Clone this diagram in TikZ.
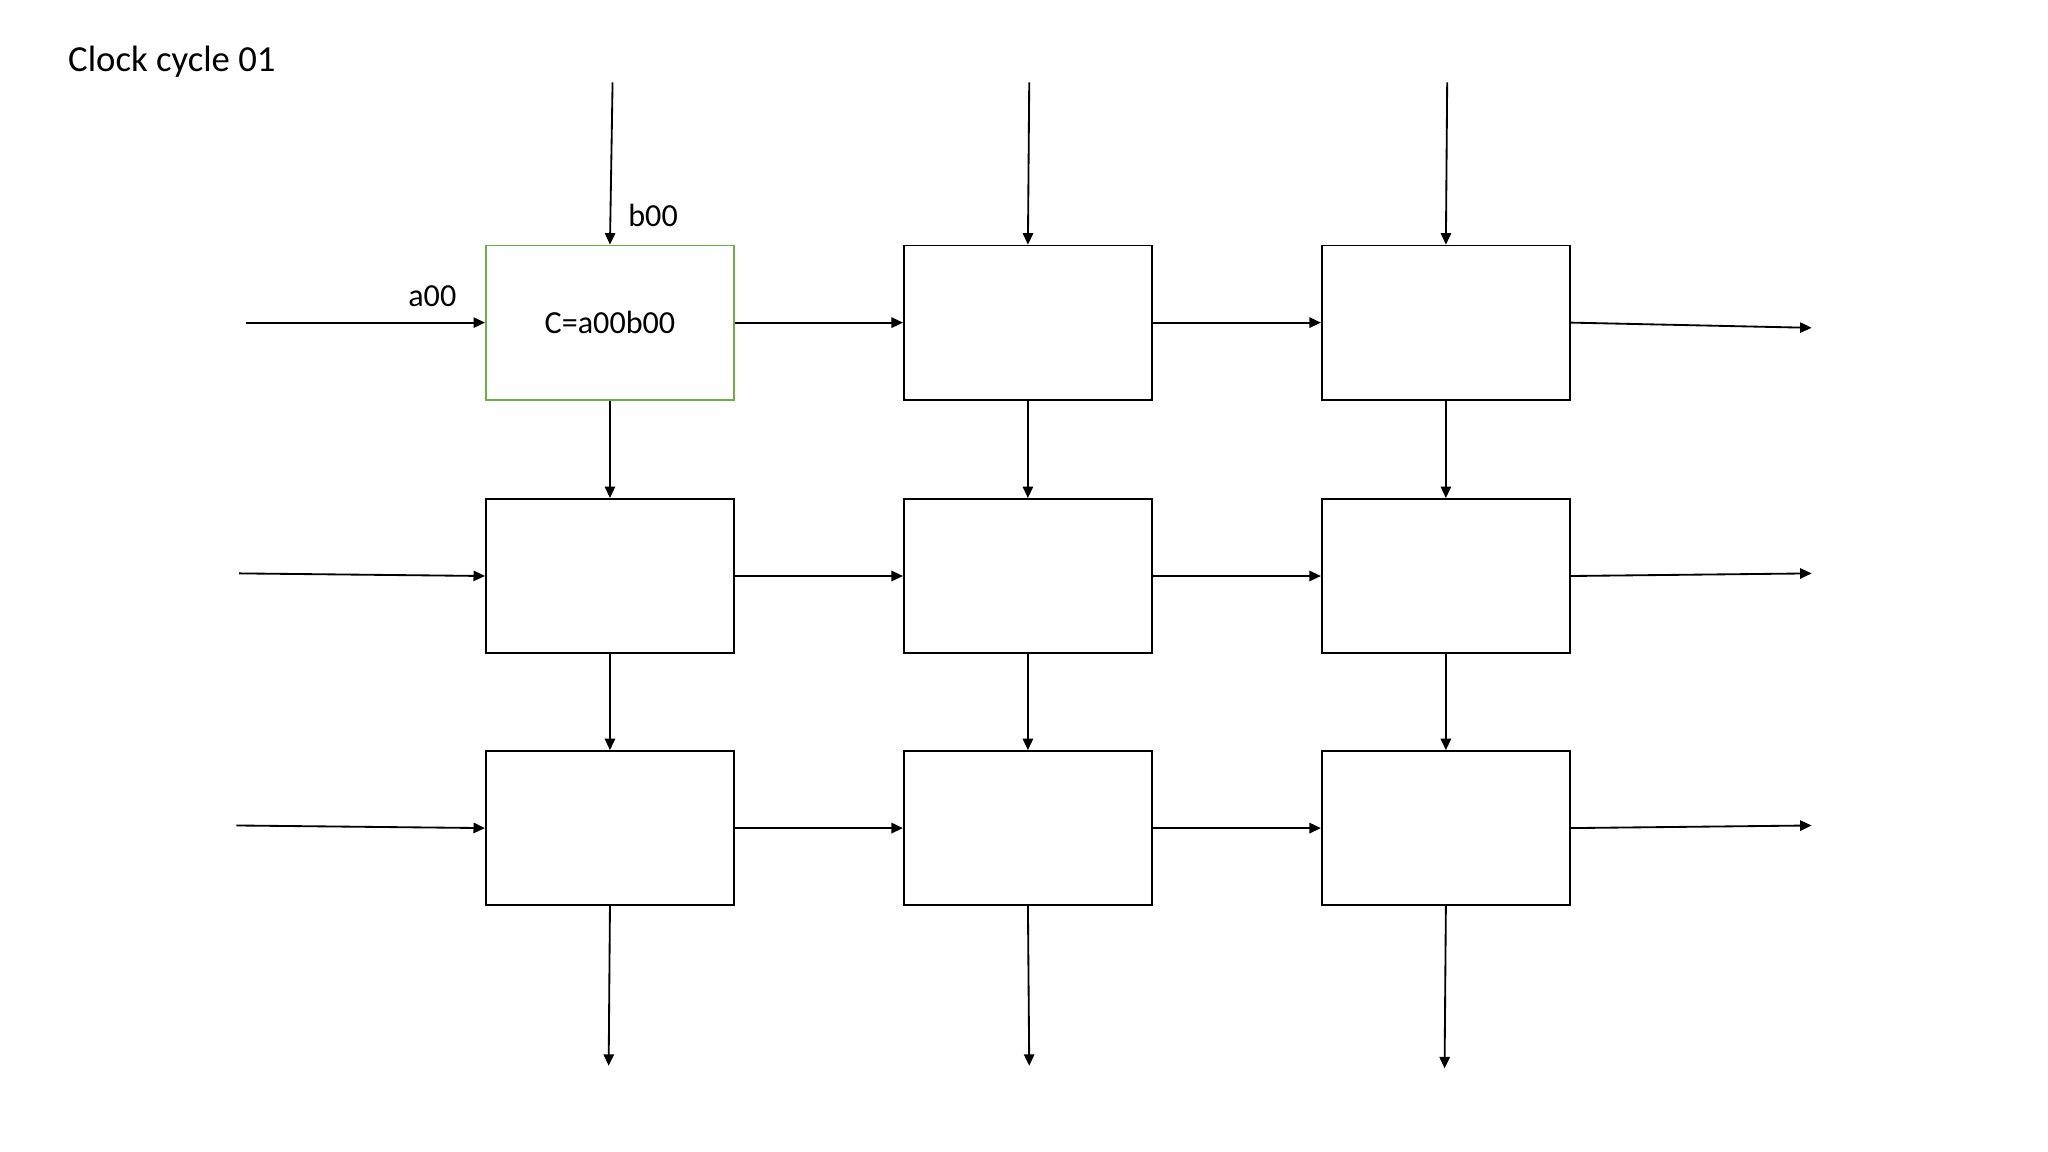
\documentclass[tikz,border=0pt]{standalone}
\usepackage{fontspec}
\setmainfont{Carlito}
\usetikzlibrary{arrows.meta}
\definecolor{pegreen}{RGB}{112,173,71}
\begin{document}
\begin{tikzpicture}[x=0.02cm,y=-0.02cm,
  pe/.style={draw,line width=0.8pt,minimum width=3.8cm,minimum height=2.36cm,inner sep=0,font=\fontsize{14}{16}\selectfont},
  arr/.style={line width=0.8pt,-{Triangle[length=5pt,width=4.5pt]}},
  lbl/.style={font=\fontsize{14}{16}\selectfont}]
\useasboundingbox (0,0) rectangle (1568,882);
\node[anchor=west,font=\fontsize{16}{19}\selectfont] (title) at (46,47) {Clock cycle 01};
\foreach \c/\x in {1/467,2/787,3/1107}{
  \foreach \r/\y in {1/247,2/441,3/634}{
    \node[pe] (p\r\c) at (\x,\y) {};
  }
}
\node[pe,draw=pegreen] at (p11) {C=a00b00};
% top inputs
\coordinate (t1) at (469,63); \coordinate (t2) at (788,63); \coordinate (t3) at (1108,63);
\foreach \c in {1,2,3}{ \draw[arr] (t\c) -- (p1\c.north); }
% bottom outputs
\coordinate (b1) at (466,816); \coordinate (b2) at (788,816); \coordinate (b3) at (1106,818);
\foreach \c in {1,2,3}{ \draw[arr] (p3\c.south) -- (b\c); }
% vertical between rows
\foreach \c in {1,2,3}{
  \draw[arr] (p1\c.south) -- (p2\c.north);
  \draw[arr] (p2\c.south) -- (p3\c.north);
}
% left inputs
\coordinate (l1) at (188,247); \coordinate (l2) at (183,439); \coordinate (l3) at (181,632);
\foreach \r in {1,2,3}{ \draw[arr] (l\r) -- (p\r1.west); }
% horizontal between columns
\foreach \r in {1,2,3}{
  \draw[arr] (p\r1.east) -- (p\r2.west);
  \draw[arr] (p\r2.east) -- (p\r3.west);
}
% right outputs
\coordinate (r1) at (1387,251); \coordinate (r2) at (1387,439); \coordinate (r3) at (1387,632);
\foreach \r in {1,2,3}{ \draw[arr] (p\r3.east) -- (r\r); }
\node[lbl] (la) at (331,227) {a00};
\node[lbl] (lb) at (500,165) {b00};
\end{tikzpicture}
\end{document}
